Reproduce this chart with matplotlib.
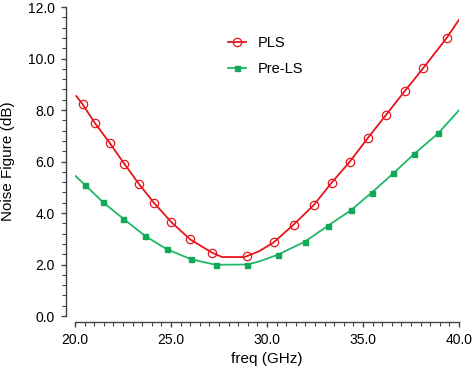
import numpy as np
import matplotlib.pyplot as plt

plt.rcParams['font.family'] = ['Liberation Sans', 'DejaVu Sans']

# PLS curve (line points) and which of them carry markers
pls_f = [20.07, 20.40, 21.03, 21.81, 22.57, 23.33, 24.11, 25.00, 25.99, 27.14, 27.66,
         28.80, 28.97, 29.6, 30.35, 31.39, 32.45, 33.37, 34.32, 35.24, 36.20, 37.17,
         38.14, 39.36, 40.05]
pls_nf = [8.54, 8.22, 7.50, 6.72, 5.91, 5.13, 4.40, 3.66, 2.98, 2.46, 2.29,
          2.29, 2.33, 2.52, 2.86, 3.55, 4.32, 5.18, 6.00, 6.90, 7.81, 8.73,
          9.63, 10.80, 11.56]
pls_marks = [1, 2, 3, 4, 5, 6, 7, 8, 9, 12, 14, 15, 16, 17, 18, 19, 20, 21, 22, 23]

# Pre-LS curve
pre_f = [20.02, 20.54, 21.47, 22.52, 23.65, 24.77, 26.06, 27.34, 28.97, 29.6, 30.56,
         31.98, 33.16, 34.36, 35.45, 36.58, 37.66, 38.91, 40.05]
pre_nf = [5.44, 5.08, 4.41, 3.78, 3.11, 2.60, 2.20, 1.99, 2.00, 2.12, 2.38,
          2.89, 3.50, 4.10, 4.79, 5.54, 6.29, 7.09, 8.03]
pre_marks = list(range(1, 18))
pre_marks.remove(9)

fig = plt.figure(figsize=(4.74, 3.70), dpi=100)
ax = fig.add_axes([0.1582, 0.1459, 0.8101, 0.8351])

ax.plot(pls_f, pls_nf, color='#e8141c', lw=1.3, marker='o', markersize=6,
        markerfacecolor='none', markeredgecolor='#e8141c', markeredgewidth=0.9,
        markevery=pls_marks, label='PLS')
ax.plot(pre_f, pre_nf, color='#1fb866', lw=1.3, marker='s', markersize=3.6,
        markerfacecolor='#12a85a', markeredgecolor='#12a85a',
        markevery=pre_marks, label='Pre-LS')

ax.set_xlim(20, 40)
ax.set_ylim(0, 12)
ax.set_xticks(np.arange(20, 40.1, 5))
ax.set_xticks(np.arange(20, 40.1, 0.5), minor=True)
ax.set_yticks(np.arange(0, 12.1, 2))
ax.set_yticks(np.arange(0, 12.1, 0.4), minor=True)
ax.set_xticklabels([f'{v:.1f}' for v in np.arange(20, 40.1, 5)])
ax.set_yticklabels([f'{v:.1f}' for v in np.arange(0, 12.1, 2)])

for s in ['top', 'right']:
    ax.spines[s].set_visible(False)
ax.spines['left'].set_position(('outward', 6.5))
ax.spines['bottom'].set_position(('outward', 4.3))
for s in ['left', 'bottom']:
    ax.spines[s].set_color('#444444')
    ax.spines[s].set_linewidth(1.0)

ax.tick_params(which='major', length=3.6, width=1.0, color='#444444', labelsize=10)
ax.tick_params(axis='x', which='major', pad=4)
ax.tick_params(axis='y', which='major', pad=4.3)
ax.tick_params(which='minor', length=2.8, width=0.8, color='#444444')

ax.set_xlabel('freq (GHz)', fontsize=11)
ax.set_ylabel('Noise Figure (dB)', fontsize=11)
ax.xaxis.set_label_coords(0.5, -0.115)
ax.yaxis.set_label_coords(-0.157, 0.5)

ax.legend(loc='upper left', bbox_to_anchor=(0.365, 0.948), frameon=False, fontsize=10.5,
          handlelength=1.2, labelspacing=0.8, handletextpad=0.8)

fig.savefig('out.png', dpi=100)
